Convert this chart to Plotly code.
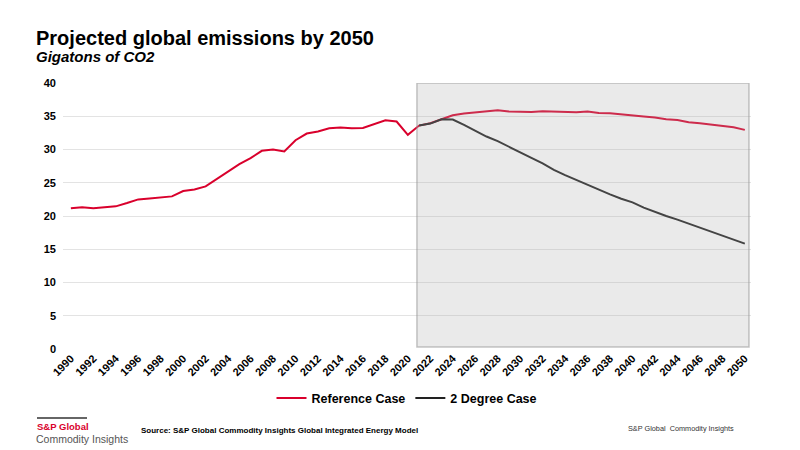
import plotly.graph_objects as go

hist_years = list(range(1990, 2022))
hist_ref = [21.15, 21.3, 21.15, 21.25, 21.45, 21.95, 22.5, 22.65, 22.8, 22.95,
            23.75, 24.0, 24.45, 25.55, 26.7, 27.8, 28.7, 29.8, 30.0, 29.7,
            31.4, 32.4, 32.7, 33.2, 33.3, 33.2, 33.25, 33.8, 34.4, 34.2,
            32.2, 33.6]
proj_years = list(range(2021, 2051))
proj_ref = [33.6, 33.95, 34.55, 35.15, 35.4, 35.6, 35.8, 35.9, 35.7, 35.65,
            35.65, 35.75, 35.7, 35.7, 35.6, 35.7, 35.5, 35.45, 35.25, 35.15,
            34.95, 34.8, 34.55, 34.45, 34.1, 33.95, 33.75, 33.6, 33.35, 32.95]
proj_2deg = [33.6, 33.9, 34.55, 34.5, 33.7, 32.85, 31.95, 31.25, 30.45, 29.65,
             28.75, 27.9, 26.95, 26.15, 25.4, 24.7, 23.95, 23.25, 22.6, 22.05,
             21.25, 20.6, 20.0, 19.45, 18.85, 18.15, 17.55, 17.05, 16.45, 15.85]

ref_years = hist_years + proj_years[1:]
ref_vals = hist_ref + proj_ref[1:]
tick_years = list(range(1990, 2051, 2))
y_ticks = list(range(0, 41, 5))

RED = "#d9002c"
BLACK = "#222222"
FONT = "Arial, Liberation Sans, sans-serif"

fig = go.Figure()
fig.add_trace(go.Scatter(x=ref_years, y=ref_vals, mode="lines", name="<b>Reference Case</b>",
                         line=dict(color=RED, width=2)))
fig.add_trace(go.Scatter(x=proj_years, y=proj_2deg, mode="lines", name="<b>2 Degree Case</b>",
                         line=dict(color=BLACK, width=2)))

fig.add_shape(type="rect", xref="x", yref="y", x0=2020.81, x1=2050.37, y0=0.3, y1=40,
              fillcolor="rgba(170,170,170,0.25)", line=dict(color="rgba(150,150,150,0.55)", width=1.5),
              layer="above")

fig.update_layout(
    width=800, height=450,
    margin=dict(l=63, r=49, t=83, b=101),
    paper_bgcolor="white", plot_bgcolor="white",
    font=dict(family=FONT, color="black"),
    showlegend=True,
    legend=dict(orientation="h", x=0.5, xanchor="center", y=-0.129, yanchor="top",
                font=dict(size=12.5, family=FONT, color="black"),
                itemwidth=30, tracegroupgap=0),
    xaxis=dict(range=[1989.3, 2050.55], tickmode="array", tickvals=tick_years,
               ticktext=[f"<b>{y}</b>" for y in tick_years], tickangle=-45,
               tickfont=dict(size=11), showgrid=False, zeroline=False, showline=False,
               ticks=""),
    yaxis=dict(range=[0, 40], tickmode="array", tickvals=y_ticks,
               ticktext=[f"<b>{v}</b>" for v in y_ticks],
               tickfont=dict(size=11), showgrid=True, gridcolor="#e3e3e3", gridwidth=1,
               zeroline=False, showline=False, ticks="", ticklabelstandoff=6),
)

fig.add_annotation(
    text=("<span style='font-size:20px'><b>Projected global emissions by 2050</b></span><br>"
          "<span style='font-size:15px'><b><i>Gigatons of CO2</i></b></span>"),
    xref="paper", yref="paper", x=(34-63)/688, y=1 + (83-67)/266,
    xanchor="left", yanchor="bottom", align="left",
    showarrow=False, font=dict(size=13, color="black"))
# logo
fig.add_shape(type="line", xref="paper", yref="paper", x0=(37-63)/688, x1=(87-63)/688,
              y0=-(418-349)/266, y1=-(418-349)/266, line=dict(color="#333333", width=1.5))
fig.add_annotation(text="<b>S&amp;P Global</b>", xref="paper", yref="paper",
                   x=(35-63)/688, y=-(418.5-349)/266, xanchor="left", yanchor="top",
                   showarrow=False, font=dict(size=9.5, color=RED))
fig.add_annotation(text="Commodity Insights", xref="paper", yref="paper",
                   x=(34-63)/688, y=-(431-349)/266, xanchor="left", yanchor="top",
                   showarrow=False, font=dict(size=10.5, color="#555555"))
fig.add_annotation(text="<b>Source: S&amp;P Global Commodity Insights Global Integrated Energy Model</b>",
                   xref="paper", yref="paper", x=(139-63)/688, y=-(430-349)/266,
                   xanchor="left", yanchor="middle", showarrow=False,
                   font=dict(size=8, color="black"))
fig.add_annotation(text="S&amp;P Global  Commodity Insights", xref="paper", yref="paper",
                   x=(626-63)/688, y=-(428-349)/266, xanchor="left", yanchor="middle",
                   showarrow=False, font=dict(size=7.3, color="#333333"))

fig.write_html("out.html")
